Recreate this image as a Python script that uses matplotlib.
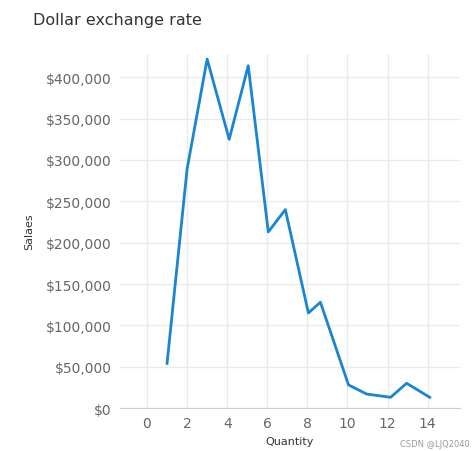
import matplotlib.pyplot as plt
from matplotlib.ticker import FuncFormatter

quantity = [1, 2, 3, 4.1, 5.05, 6.05, 6.9, 8.05, 8.65, 10.05, 10.95, 12.15, 12.95, 14.1]
sales = [54000, 289000, 422000, 325000, 414000, 213000, 240000, 115000, 128000,
         28000, 17000, 13000, 30000, 13000]
xticks = [0, 2, 4, 6, 8, 10, 12, 14]
yticks = [0, 50000, 100000, 150000, 200000, 250000, 300000, 350000, 400000]

fig = plt.figure(figsize=(4.74, 4.52), dpi=100)
ax = fig.add_axes([0.253, 0.095, 0.717, 0.783])
ax.plot(quantity, sales, color='#1a85d0', lw=2)
ax.set_xlim(-1.35, 15.6)
ax.set_ylim(0, 428000)
ax.set_xticks(xticks)
ax.set_yticks(yticks)
ax.yaxis.set_major_formatter(FuncFormatter(lambda v, p: f'${v:,.0f}'))
ax.grid(True, color='#ebebeb', lw=1)
ax.set_axisbelow(True)
for s in ['top', 'right', 'left']:
    ax.spines[s].set_visible(False)
ax.spines['bottom'].set_color('#cccccc')
ax.tick_params(length=0, labelsize=10, labelcolor='#666666', pad=6)
ax.set_xlabel('Quantity', fontsize=8, color='#333333', labelpad=4)
ax.set_ylabel('Salaes', fontsize=8, color='#333333', labelpad=8)
fig.text(0.07, 0.945, 'Dollar exchange rate', fontsize=11.5, color='#333333')
fig.text(0.99, 0.01, 'CSDN @LJQ2040', fontsize=6, color='#999999', ha='right')
fig.savefig('out.png', dpi=100)
